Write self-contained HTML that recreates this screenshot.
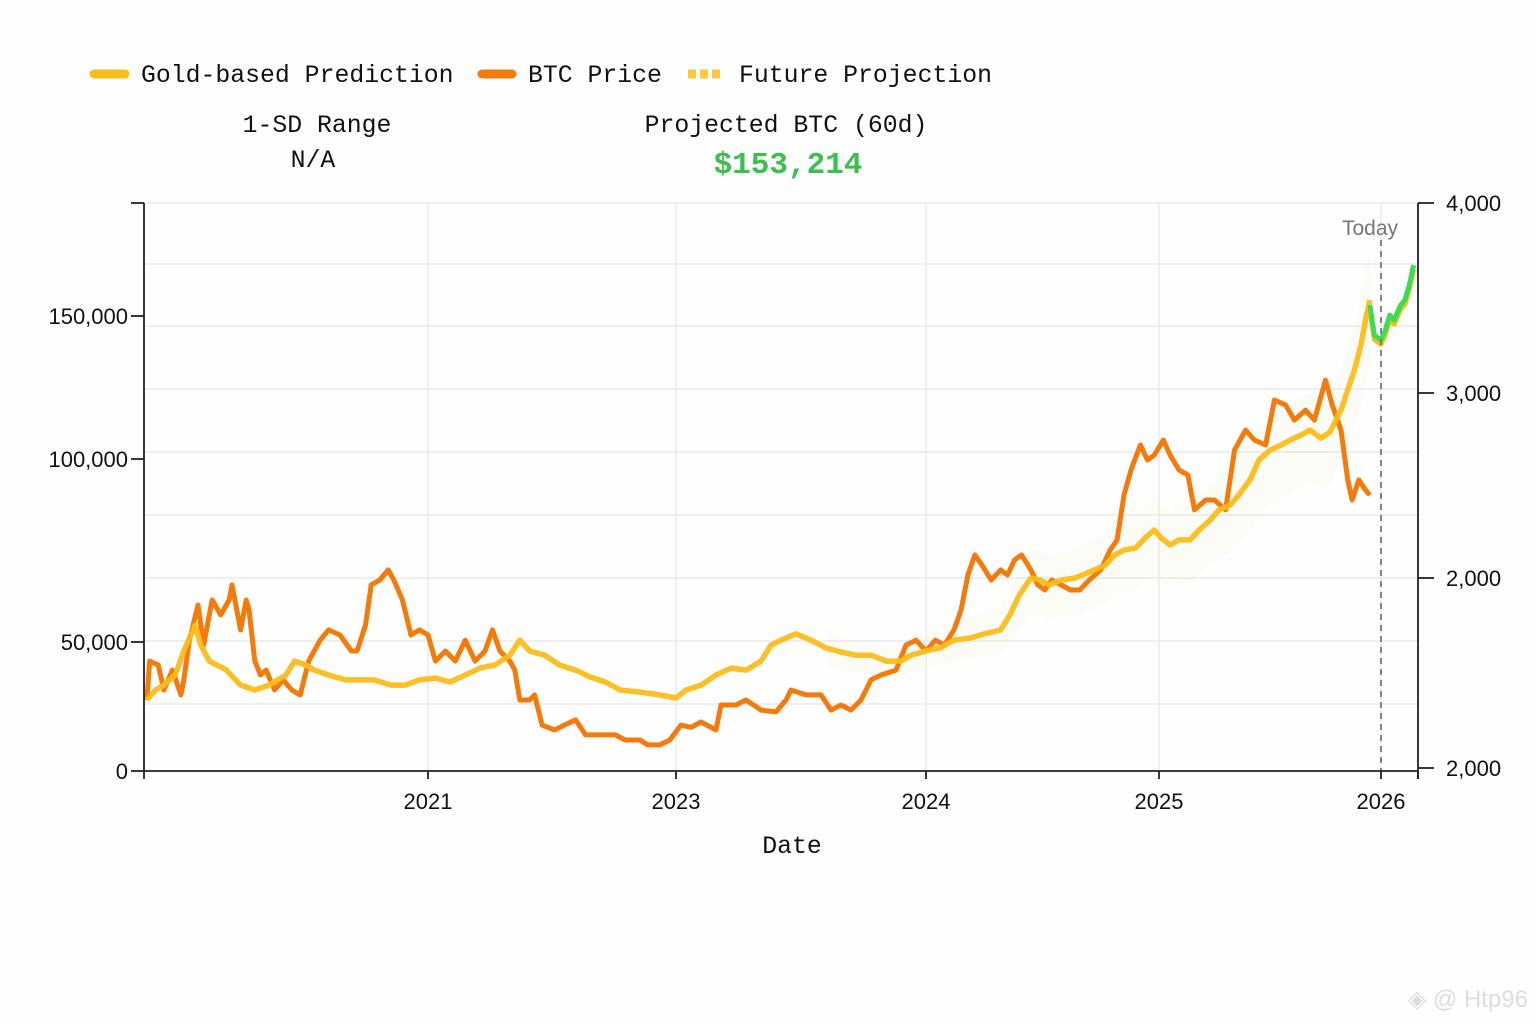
<!DOCTYPE html>
<html><head><meta charset="utf-8">
<style>
html,body{margin:0;padding:0;background:#fefefe;}
svg{display:block;}
.mono{font-family:"Liberation Mono",monospace;}
.sans{font-family:"Liberation Sans",sans-serif;}
</style></head>
<body>
<svg id="chart" width="1536" height="1024" viewBox="0 0 1536 1024" xmlns="http://www.w3.org/2000/svg">
  <g>
    <g>
      <line x1="94" y1="74" x2="125" y2="74" stroke="#fbbd1a" stroke-width="9" stroke-linecap="round"/>
      <text class="mono" x="141" y="82" font-size="24.8" fill="#111">Gold-based Prediction</text>
    </g>
    <g>
      <line x1="482" y1="74" x2="512" y2="74" stroke="#f57a0c" stroke-width="9" stroke-linecap="round"/>
      <text class="mono" x="528" y="82" font-size="24.8" fill="#111">BTC Price</text>
    </g>
    <g>
      <line x1="688" y1="74" x2="722" y2="74" stroke="#fcc93a" stroke-width="9" stroke-dasharray="8 4"/>
      <text class="mono" x="739" y="82" font-size="24.8" fill="#111">Future Projection</text>
    </g>
  </g>
  <text class="mono" x="317" y="132" font-size="24.8" text-anchor="middle" fill="#111">1-SD Range</text>
  <text class="mono" x="313" y="167" font-size="24.8" text-anchor="middle" fill="#111">N/A</text>
  <text class="mono" x="786" y="132" font-size="24.8" text-anchor="middle" fill="#111">Projected BTC (60d)</text>
  <text class="mono" x="788" y="173" font-size="31" font-weight="bold" text-anchor="middle" fill="#3cbf4e">$153,214</text>

  <g id="grid"></g>
  <g id="series"></g>
  <g id="axes"></g>
  <text class="mono" x="792" y="853" font-size="24.8" text-anchor="middle" fill="#111">Date</text>
  <text class="sans" x="1528" y="1007" font-size="24" text-anchor="end" fill="#ddd">◈ @ Htp96</text>
</svg>
<script>
// ---- data ----
const leftTickValues = [0, 50000, 100000, 150000];
const leftTickLabels = ["0", "50,000", "100,000", "150,000"];
const rightTickLabels = ["4,000", "3,000", "2,000", "2,000"];
const xTickYears = [2021, 2023, 2024, 2025, 2026];
const xTickLabels = ["2021", "2023", "2024", "2025", "2026"];
const todayYear = 2026.0;

const btcDates = [2020.01,2020.02,2020.05,2020.07,2020.10,2020.13,2020.14,2020.16,2020.19,2020.21,2020.24,2020.27,2020.30,2020.31,2020.34,2020.36,2020.37,2020.39,2020.41,2020.43,2020.46,2020.49,2020.52,2020.55,2020.58,2020.62,2020.65,2020.69,2020.73,2020.75,2020.78,2020.80,2020.83,2020.86,2020.88,2020.91,2020.94,2020.97,2021.0,2021.06,2021.14,2021.22,2021.30,2021.38,2021.46,2021.52,2021.58,2021.66,2021.70,2021.74,2021.82,2021.86,2021.92,2022.02,2022.10,2022.19,2022.27,2022.39,2022.51,2022.59,2022.71,2022.77,2022.87,2022.95,2023.02,2023.06,2023.10,2023.16,2023.18,2023.24,2023.28,2023.34,2023.40,2023.44,2023.46,2023.52,2023.58,2023.62,2023.66,2023.70,2023.74,2023.78,2023.82,2023.88,2023.92,2023.96,2024.0,2024.04,2024.08,2024.12,2024.15,2024.18,2024.21,2024.24,2024.28,2024.32,2024.35,2024.38,2024.41,2024.45,2024.48,2024.51,2024.54,2024.58,2024.62,2024.66,2024.70,2024.75,2024.79,2024.82,2024.85,2024.88,2024.92,2024.95,2024.98,2025.02,2025.05,2025.09,2025.13,2025.16,2025.21,2025.25,2025.30,2025.34,2025.39,2025.43,2025.48,2025.52,2025.57,2025.61,2025.66,2025.70,2025.75,2025.78,2025.82,2025.85,2025.87,2025.90,2025.93,2025.95];
const btcValues = [27.5,42.6,41.1,31.4,39.1,29.5,35.3,50.5,60.1,48.8,61.5,57.4,61.5,65.6,53.3,61.5,58.7,42.6,37.2,39.1,31.4,35.3,31.4,29.5,42.6,50.5,53.3,51.9,46.5,46.5,54.6,65.6,66.9,69.7,66.9,61.5,51.9,53.3,51.9,42.6,46.5,42.6,50.5,42.6,46.5,53.3,46.5,42.6,39.1,27.5,27.5,29.5,17.8,15.9,17.8,19.8,14.0,14.0,14.0,12.0,12.0,10.1,10.1,12.0,17.8,16.9,19.0,15.9,25.6,25.6,27.5,23.6,22.9,27.5,31.4,29.5,29.5,23.6,25.6,23.6,27.5,35.3,37.2,39.1,48.8,50.5,46.5,50.5,48.8,53.3,58.7,68.3,73.8,71.0,66.9,69.7,68.3,72.4,73.8,69.7,65.6,64.2,66.9,65.6,64.2,64.2,66.9,69.7,75.1,77.9,90.2,97.0,104.9,99.7,101.4,106.6,101.4,97.0,95.6,86.1,88.8,88.8,86.1,103.1,110.1,106.6,104.9,120.6,118.9,113.6,117.1,113.6,127.6,118.9,110.1,94.3,88.8,94.3,91.5,90.2];

const goldDates = [2020.01,2020.04,2020.07,2020.11,2020.14,2020.18,2020.20,2020.23,2020.29,2020.34,2020.39,2020.44,2020.50,2020.53,2020.57,2020.60,2020.65,2020.71,2020.76,2020.81,2020.87,2020.92,2020.97,2021.06,2021.18,2021.30,2021.42,2021.54,2021.66,2021.74,2021.82,2021.94,2022.06,2022.19,2022.31,2022.43,2022.55,2022.71,2022.87,2023.0,2023.04,2023.10,2023.16,2023.22,2023.28,2023.34,2023.38,2023.42,2023.48,2023.54,2023.60,2023.66,2023.72,2023.78,2023.84,2023.90,2023.94,2024.0,2024.06,2024.12,2024.19,2024.25,2024.32,2024.36,2024.40,2024.45,2024.49,2024.53,2024.58,2024.64,2024.70,2024.77,2024.81,2024.85,2024.90,2024.94,2024.98,2025.01,2025.05,2025.09,2025.14,2025.18,2025.23,2025.27,2025.32,2025.36,2025.41,2025.45,2025.50,2025.55,2025.59,2025.64,2025.68,2025.73,2025.77,2025.82,2025.85,2025.88,2025.91,2025.93,2025.95];
const goldValues = [27.5,31.4,33.3,37.2,46.5,54.6,48.8,42.6,39.1,33.3,31.4,33.3,37.2,42.6,41.1,39.1,37.2,35.3,35.3,35.3,33.3,33.3,35.3,36.0,34.5,37.2,39.9,41.1,44.9,50.5,46.5,44.9,41.1,39.1,36.4,34.5,31.4,30.6,29.5,28.3,31.4,33.3,37.2,39.9,39.1,42.6,48.8,50.5,52.2,50.5,47.7,46.1,44.9,44.9,42.6,42.6,44.9,46.5,47.7,50.5,51.1,52.2,53.3,57.4,62.8,67.5,66.9,65.6,66.9,67.5,69.1,71.0,73.8,75.1,75.7,78.4,80.6,78.4,76.5,77.9,77.9,80.6,83.3,86.1,87.4,90.2,94.3,99.7,103.1,104.9,106.6,108.4,110.1,107.3,109.4,117.1,124.1,131.1,139.9,148.6,155.6];

const projDates = [2025.95,2025.97,2026.0,2026.02,2026.04,2026.06,2026.09,2026.11,2026.13,2026.15];
const projValues = [153.8,143.3,141.6,145.1,150.3,148.6,153.8,155.6,160.8,167.8];

// ---- scales ----
const NS = "http://www.w3.org/2000/svg";
const X0 = 144, X1 = 1418, YTOP = 203, YBOT = 771;
const xDom = [2020.0, 2021, 2023, 2024, 2025, 2026, 2026.17];
const xRng = [144, 428, 676, 926, 1159, 1381, 1418];
const yDom = [0, 50, 100, 150, 190];
const yRng = [771, 642, 459, 316, 201.6];
function pw(v, d, r){
  for(let i=0;i<d.length-1;i++){
    if(v<=d[i+1]||i===d.length-2){return r[i]+(v-d[i])*(r[i+1]-r[i])/(d[i+1]-d[i]);}
  }
}
const xs = t => pw(t, xDom, xRng);
const ys = v => pw(v, yDom, yRng); // v in thousands
function mk(tag, attrs, parent){
  const el = document.createElementNS(NS, tag);
  for(const k in attrs) el.setAttribute(k, attrs[k]);
  parent.appendChild(el); return el;
}
const grid = document.getElementById('grid');
const axes = document.getElementById('axes');
const series = document.getElementById('series');

// grid
[203,264,326,389,452,515,578,641,704].forEach(y=>{
  const l = mk('line',{x1:X0,x2:X1,y1:y,y2:y,stroke:'#e6e6e6','stroke-width':1.2},grid);
  
  
});
xTickYears.forEach(t=>{
  const l = mk('line',{x1:xs(t),x2:xs(t),y1:YTOP,y2:YBOT,stroke:'#e6e6e6','stroke-width':1.2},grid);
  
  
});

// 1-SD faint band
function pathOf(ds, vs){ return ds.map((d,i)=>(i?'L':'M')+xs(d).toFixed(1)+' '+ys(vs[i]).toFixed(1)).join(' '); }
(function(){
  const sel = goldDates.map((d,i)=>i).filter(i=>goldDates[i]>=2023.6);
  let up = sel.map(i=>xs(goldDates[i]).toFixed(1)+' '+ys(goldValues[i]+goldValues[i]*0.12).toFixed(1));
  let dn = sel.slice().reverse().map(i=>xs(goldDates[i]).toFixed(1)+' '+ys(goldValues[i]-goldValues[i]*0.15).toFixed(1));
  const b = mk('path',{d:'M'+up.join(' L')+' L'+dn.join(' L')+'Z',fill:'#eef0c0',opacity:0.12},series);
  
  
})();

// series
const btc = mk('path',{d:pathOf(btcDates,btcValues),fill:'none',stroke:'#f57a0c','stroke-width':5,'stroke-linejoin':'round'},series);


const gold = mk('path',{d:pathOf(goldDates,goldValues),fill:'none',stroke:'#fbbd1a','stroke-width':5.5,'stroke-linejoin':'round',opacity:0.95},series);


const projU = mk('path',{d:pathOf(projDates,projValues.map(v=>v-1.5)),fill:'none',stroke:'#f4c11c','stroke-width':5,'stroke-linejoin':'round'},series);


const proj = mk('path',{d:pathOf(projDates,projValues),fill:'none',stroke:'#3ddc55','stroke-width':5,'stroke-linejoin':'round'},series);



// today line
const tl = mk('line',{x1:xs(todayYear),x2:xs(todayYear),y1:240,y2:YBOT,stroke:'#777','stroke-width':1.8,'stroke-dasharray':'6 5'},axes);


const tt = mk('text',{x:1370,y:235,'font-size':21,'text-anchor':'middle',fill:'#777','font-family':'Liberation Sans, sans-serif'},axes);
tt.textContent='Today';



// axes lines
[[X0,YTOP,X0,YBOT],[X0,YBOT,X1,YBOT],[X1,YTOP,X1,779]].forEach(a=>{
  const l = mk('line',{x1:a[0],y1:a[1],x2:a[2],y2:a[3],stroke:'#222','stroke-width':1.8},axes);
  
  
});
// left ticks
const lt = mk('line',{x1:131,x2:X0,y1:YTOP,y2:YTOP,stroke:'#222','stroke-width':1.8},axes);


leftTickValues.forEach((v,i)=>{
  const y = ys(v/1000);
  const l = mk('line',{x1:131,x2:X0,y1:y,y2:y,stroke:'#222','stroke-width':1.8},axes);
  
  
  const t = mk('text',{x:128,y:y+8,'font-size':22,'text-anchor':'end',fill:'#111','font-family':'Liberation Sans, sans-serif'},axes);
  t.textContent = leftTickLabels[i];
  
  
});
// right ticks
[203,393,578,768].forEach((y,i)=>{
  const l = mk('line',{x1:X1,x2:1434,y1:y,y2:y,stroke:'#222','stroke-width':1.8},axes);
  
  
  const t = mk('text',{x:1446,y:y+8,'font-size':22,fill:'#111','font-family':'Liberation Sans, sans-serif'},axes);
  t.textContent = rightTickLabels[i];
  
  
});
// x ticks
[X0, X1].forEach(x=>{
  const l = mk('line',{x1:x,x2:x,y1:YBOT,y2:779,stroke:'#222','stroke-width':1.8},axes);
  
  
});
xTickYears.forEach((yr,i)=>{
  const x = xs(yr);
  const l = mk('line',{x1:x,x2:x,y1:YBOT,y2:779,stroke:'#222','stroke-width':1.8},axes);
  
  
  const t = mk('text',{x:x,y:809,'font-size':22,'text-anchor':'middle',fill:'#111','font-family':'Liberation Sans, sans-serif'},axes);
  t.textContent = xTickLabels[i];
  
  
});
</script>
</body></html>
